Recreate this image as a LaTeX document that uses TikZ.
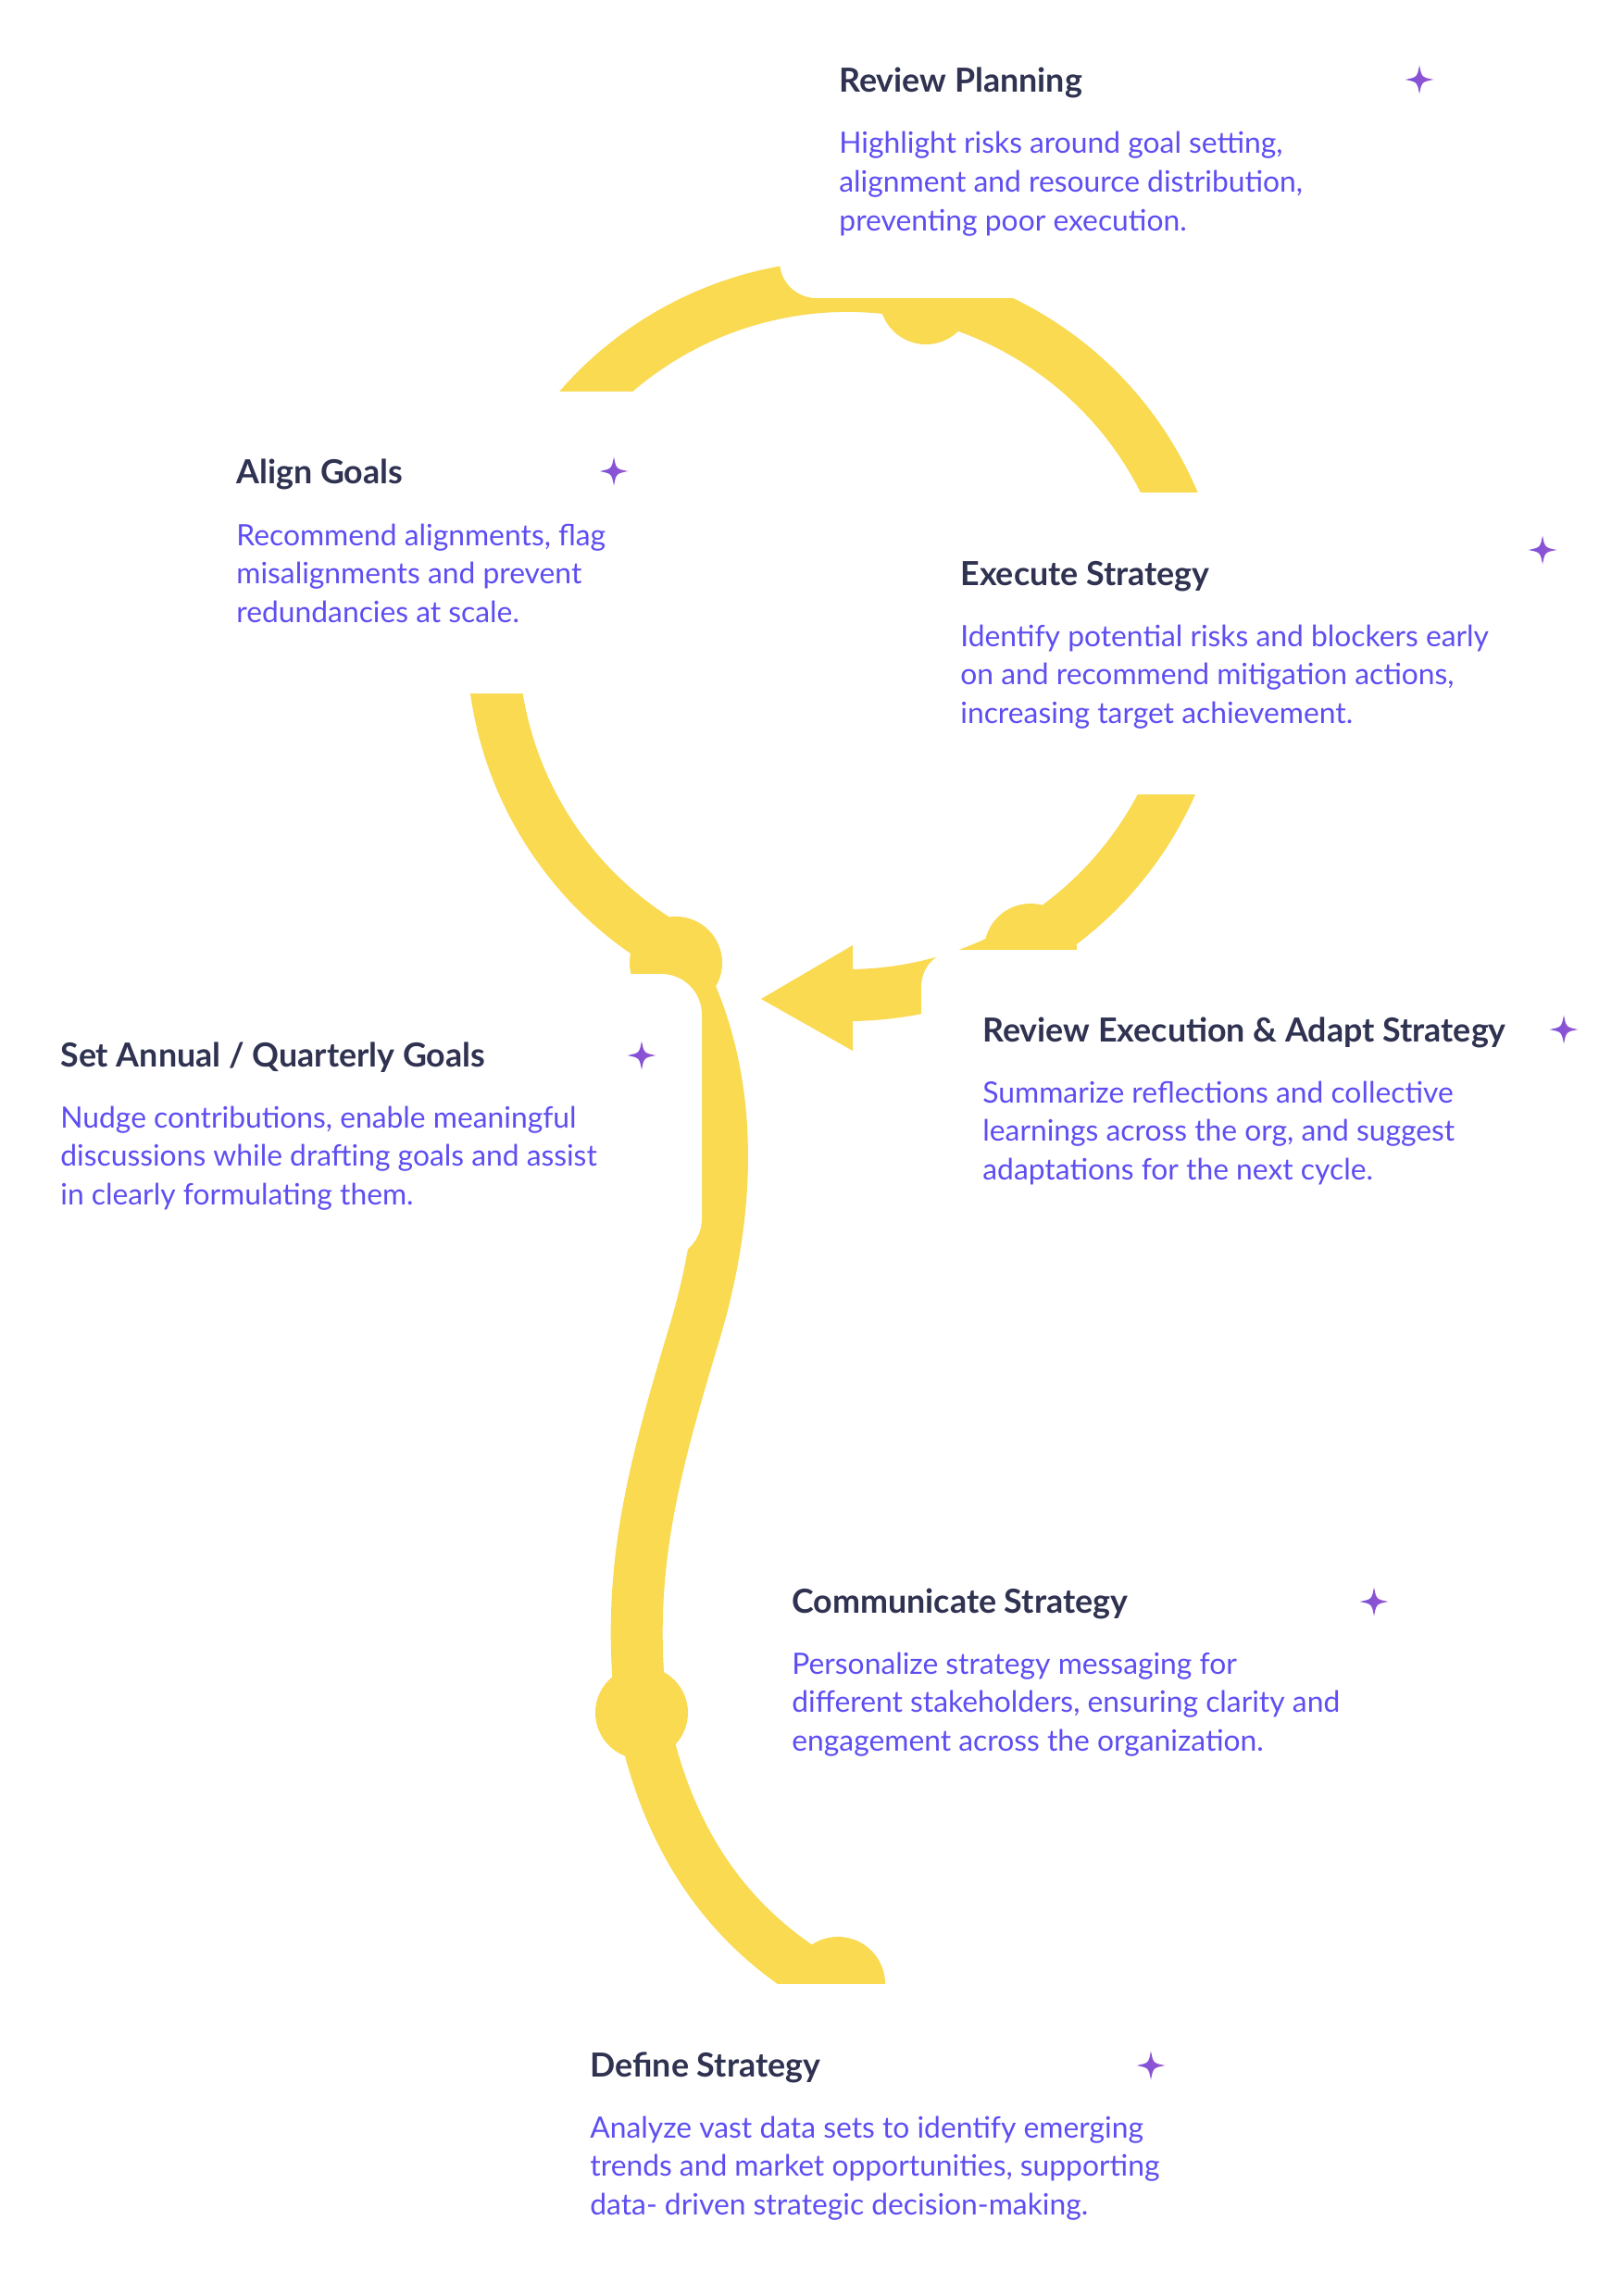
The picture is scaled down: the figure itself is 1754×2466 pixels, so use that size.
\documentclass[tikz,border=0pt]{standalone}
\usepackage{fontspec}
\setmainfont{Lato}
\definecolor{ylw}{HTML}{F9DA51}
\definecolor{headc}{HTML}{2F3250}
\definecolor{bodyc}{HTML}{5E4EF2}
\definecolor{starA}{HTML}{7A50DC}
\definecolor{starB}{HTML}{9A55CC}
\newcommand\sparkle[2]{%
  \begin{scope}[shift={(#1,#2)}]
    \shade[left color=starA,right color=starB]
      (0,-15.5) .. controls (2.5,-2.5) .. (15.5,0)
      .. controls (2.5,2.5) .. (0,15.5)
      .. controls (-2.5,2.5) .. (-15.5,0)
      .. controls (-2.5,-2.5) .. (0,-15.5) -- cycle;
  \end{scope}}
\newcommand\stage[7]{%
  \node[headtext] (#1) at (#2,#3) {#4};
  \node[bodyline] (#1-a) at (#2,#3+66) {#5};
  \node[bodyline] (#1-b) at (#2,#3+107.7) {#6};
  \node[bodyline] (#1-c) at (#2,#3+149.4) {#7};}
\begin{document}
\begin{tikzpicture}[x=0.5pt,y=-0.5pt,
  road/.style={draw=ylw,line width=28pt},
  blob/.style={fill=ylw},
  cover/.style={fill=white,rounded corners=20pt},
  headtext/.style={anchor=base west,inner sep=0pt,text=headc,
    font=\fontsize{17.9}{22}\selectfont\bfseries},
  bodyline/.style={anchor=base west,inner sep=0pt,text=bodyc,
    font=\fontsize{15.9}{21}\selectfont}]
\fill[white] (0,0) rectangle (1754,2466);
\useasboundingbox (0,0) rectangle (1754,2466);

% yellow loop, stem and blobs
\draw[road] (915,692) ++(118:383) arc[start angle=118,end angle=452,radius=383];
\fill[ylw] (921,1021) -- (822,1079) -- (921,1135) -- cycle;
\draw[road] (730,1040) .. controls (790,1150) and (795,1290) .. (750,1440)
  .. controls (705,1590) and (675,1700) .. (693,1850)
  .. controls (720,1990) and (790,2090) .. (905,2150);
\fill[blob] (1000,322) circle[radius=50];
\fill[blob] (1113,1026) circle[radius=50];
\fill[blob] (730,1040) circle[radius=50];
\fill[blob] (693,1850) circle[radius=50];
\fill[blob] (905,2143) circle[radius=51];

% white panels behind the texts
\fill[cover] (842,20) rectangle (1640,322);
\fill[cover] (230,423) rectangle (745,749);
\fill[cover] (1010,532) rectangle (1740,858);
\fill[cover] (995,1026) rectangle (1745,1310);
\fill[cover,rounded corners=22pt] (40,1052) rectangle (758,1360);
\fill[cover] (600,2143) rectangle (1300,2440);

% texts
\stage{rp}{906}{100}{Review Planning}
  {Highlight risks around goal setting,}
  {alignment and resource distribution,}
  {preventing poor execution.}
\stage{ag}{255}{523}{Align Goals}
  {Recommend alignments, flag}
  {misalignments and prevent}
  {redundancies at scale.}
\stage{es}{1037}{632}{Execute Strategy}
  {Identify potential risks and blockers early}
  {on and recommend mitigation actions,}
  {increasing target achievement.}
\stage{sa}{65}{1152}{Set Annual / Quarterly Goals}
  {Nudge contributions, enable meaningful}
  {discussions while drafting goals and assist}
  {in clearly formulating them.}
\stage{re}{1061}{1125}{Review Execution \& Adapt Strategy}
  {Summarize reflections and collective}
  {learnings across the org, and suggest}
  {adaptations for the next cycle.}
\stage{cs}{855}{1742}{Communicate Strategy}
  {Personalize strategy messaging for}
  {different stakeholders, ensuring clarity and}
  {engagement across the organization.}
\stage{ds}{637}{2243}{Define Strategy}
  {Analyze vast data sets to identify emerging}
  {trends and market opportunities, supporting}
  {data- driven strategic decision-making.}

% sparkles
\sparkle{1533}{86}
\sparkle{663}{509}
\sparkle{1666}{594}
\sparkle{693}{1140}
\sparkle{1689}{1112}
\sparkle{1484}{1730}
\sparkle{1243}{2231}
\end{tikzpicture}
\end{document}
